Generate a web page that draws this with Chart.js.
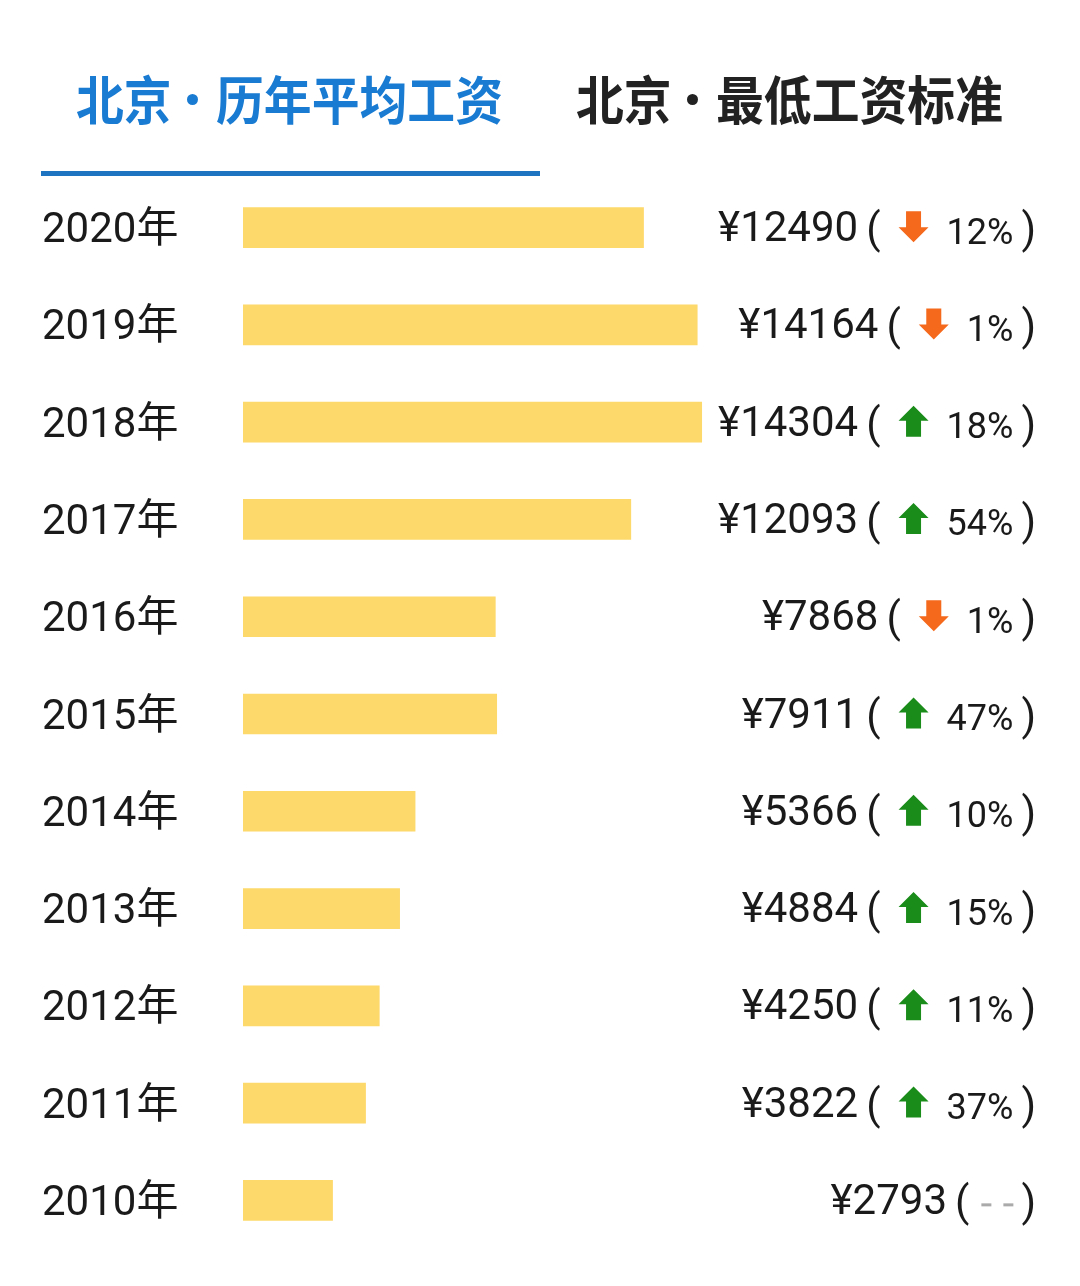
<!DOCTYPE html>
<html>
<head>
<meta charset="utf-8">
<script src="https://cdn.jsdelivr.net/npm/chart.js@4"></script>
<style>
  body { margin: 0; background: #fff; }
  #wrap { position: relative; width: 1080px; height: 1286px; }
  .tab span {
    position: absolute;
    top: 68px;
    font-family: "Noto Sans CJK SC", sans-serif;
    font-weight: bold;
    font-size: 52px;
    line-height: 60px;
    white-space: nowrap;
    transform: scaleX(0.92);
    transform-origin: left center;
  }
  #tab1 span { color: #1a7bd2; }
  #tab2 span { color: #222; }
  .dot {
    position: absolute;
    top: 94px;
    width: 11px; height: 11px;
    border-radius: 50%;
  }
  #tab1 .dot { background: #1a7bd2; }
  #tab2 .dot { background: #222; }
  #underline {
    position: absolute;
    left: 41px; top: 171px;
    width: 499px; height: 5px;
    background: #1e74c0;
  }
</style>
</head>
<body>
<div id="wrap">
  <canvas id="chart"></canvas>
  <div class="tab" id="tab1">
    <span style="left:76px">北京</span><i class="dot" style="left:187px"></i><span style="left:216px">历年平均工资</span>
  </div>
  <div class="tab" id="tab2">
    <span style="left:576px">北京</span><i class="dot" style="left:687px"></i><span style="left:716px">最低工资标准</span>
  </div>
  <div id="underline"></div>
</div>
<script>
const years = ["2020年", "2019年", "2018年", "2017年", "2016年", "2015年", "2014年", "2013年", "2012年", "2011年", "2010年"]
const wages = [12490, 14164, 14304, 12093, 7868, 7911, 5366, 4884, 4250, 3822, 2793]
// year-on-year change in percent, null where there is no previous year
const changes = [-12, -1, 18, 54, -1, 47, 10, 15, 11, 37, null]

const BAR_COLOR = "#fdd86a"
const TEXT_COLOR = "#1a1a1a"
const UP_COLOR = "#1a8c1a"
const DOWN_COLOR = "#f4691c"
const FONT = "Roboto, 'Noto Sans CJK SC', sans-serif"
const RIGHT_EDGE = 1036

const drawArrow = (ctx, cx, cy, down) => {
  const w = 30, h = 31, shaft = 15, head = 15
  const dir = down ? 1 : -1
  const tip = cy + dir * h / 2
  const back = cy - dir * h / 2
  const neck = tip - dir * head
  ctx.beginPath()
  ctx.moveTo(cx - shaft / 2, back)
  ctx.lineTo(cx + shaft / 2, back)
  ctx.lineTo(cx + shaft / 2, neck)
  ctx.lineTo(cx + w / 2, neck)
  ctx.lineTo(cx, tip)
  ctx.lineTo(cx - w / 2, neck)
  ctx.lineTo(cx - shaft / 2, neck)
  ctx.closePath()
  ctx.fillStyle = down ? DOWN_COLOR : UP_COLOR
  ctx.fill()
}

const valueLabels = {
  id: "valueLabels",
  afterDatasetsDraw(chart) {
    const ctx = chart.ctx
    const meta = chart.getDatasetMeta(0)
    meta.data.forEach((bar, i) => {
      const y = bar.y
      let x = RIGHT_EDGE
      ctx.save()
      ctx.textBaseline = "middle"
      ctx.textAlign = "right"
      ctx.fillStyle = TEXT_COLOR
      ctx.font = `42px ${FONT}`
      ctx.fillText(")", x, y + 5)
      x -= ctx.measureText(")").width + 8

      const pct = changes[i]
      if (pct === null) {
        ctx.fillStyle = "#aaaaaa"
        ctx.fillRect(x - 10, y + 3, 10, 3)
        ctx.fillRect(x - 32, y + 3, 10, 3)
        x -= 44
      } else {
        ctx.font = `36px ${FONT}`
        const label = `${Math.abs(pct)}%`
        ctx.fillText(label, x, y + 7)
        x -= ctx.measureText(label).width + 18
        drawArrow(ctx, x - 15, y - 1, pct < 0)
        x -= 30 + 18
      }

      ctx.fillStyle = TEXT_COLOR
      ctx.font = `42px ${FONT}`
      ctx.fillText("(", x, y + 5)
      x -= ctx.measureText("(").width + 8
      ctx.fillText(`¥${wages[i]}`, x, y + 3)
      ctx.restore()
    })
  },
}

new Chart(document.getElementById("chart"), {
  type: "bar",
  data: {
    labels: years,
    datasets: [
      {
        data: wages,
        backgroundColor: BAR_COLOR,
        barThickness: 40,
        borderSkipped: false,
      },
    ],
  },
  options: {
    indexAxis: "y",
    animation: false,
    responsive: true,
    maintainAspectRatio: false,
    layout: { padding: { top: 179, bottom: 37, left: 42, right: 0 } },
    plugins: {
      legend: { display: false },
      tooltip: { enabled: false },
    },
    scales: {
      x: {
        display: false,
        min: 0,
        max: 26100,
      },
      y: {
        grid: { display: false },
        border: { display: false },
        afterFit: (scale) => { scale.width = 201 },
        ticks: {
          crossAlign: "far",
          padding: 0,
          labelOffset: 4,
          color: TEXT_COLOR,
          font: { size: 42, family: FONT },
        },
      },
    },
  },
  plugins: [valueLabels],
})
</script>
</body>
</html>
